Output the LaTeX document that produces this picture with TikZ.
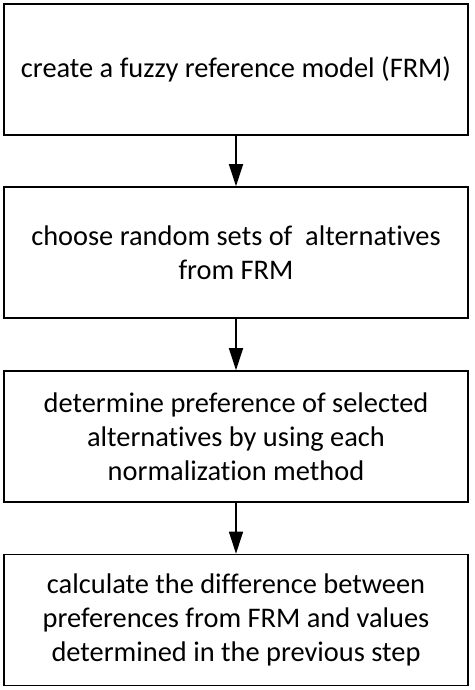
\documentclass[tikz,border=0pt]{standalone}
\usepackage{fontspec}
\setmainfont{Carlito}[Ligatures=NoCommon]
\usepackage{tikz}
\usetikzlibrary{arrows.meta}

\tikzset{
  stepbox/.style={draw, line width=1.6pt, minimum width=464pt, minimum height=131pt,
    align=center, font=\fontsize{28.4}{34}\selectfont, inner sep=0pt},
  flowarrow/.style={-{Triangle[width=14pt,length=22pt]}, line width=1.4pt}
}

\begin{document}
\begin{tikzpicture}[x=1pt,y=1pt]
    \useasboundingbox (0,0) rectangle (474,690);
    \node[stepbox] (frm) at (236,620.5) {create a fuzzy reference model (FRM)};
    \node[stepbox] (sets) at (236,437.5) {choose random sets of\ \ alternatives\\from FRM};
    \node[stepbox] (pref) at (236,253.5) {determine preference of selected\\alternatives by using each\\normalization method};
    \node[stepbox] (diff) at (236,70) {calculate the difference between\\preferences from FRM and values\\determined in the previous step};
    \draw[flowarrow] (frm)--(sets);
    \draw[flowarrow] (sets)--(pref);
    \draw[flowarrow] (pref)--(diff);
\end{tikzpicture}
\end{document}
